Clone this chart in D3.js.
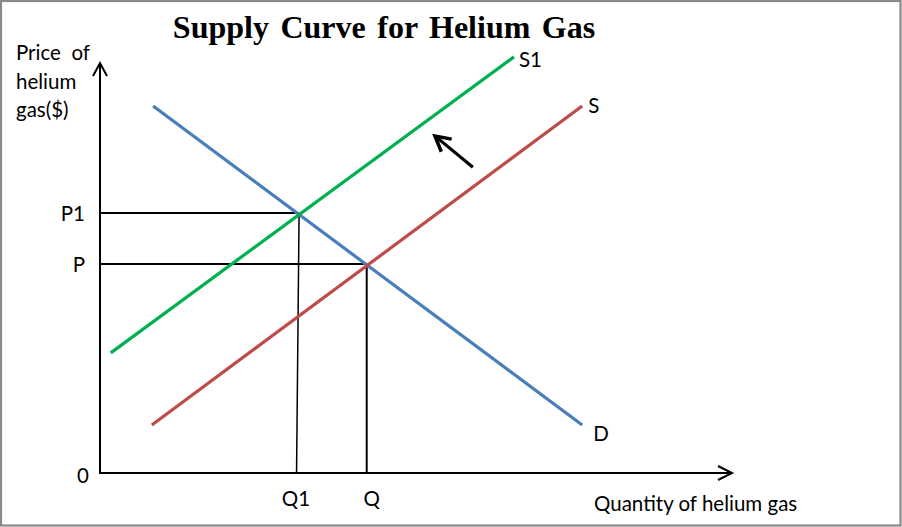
<!DOCTYPE html>
<html>
<head>
<meta charset="utf-8">
<script src="https://cdn.jsdelivr.net/npm/d3@7"></script>
<style>
  html, body { margin: 0; padding: 0; background: #fff; }
  svg { display: block; }
  .lbl { font-family: Lato, "Noto Sans", sans-serif; fill: #000; font-size: 20.5px; }
</style>
</head>
<body>
<script>
// ---- data (quantity / price units) ----
const demandD = [ {q: 0.84, p: 8.95}, {q: 7.63, p: 1.17} ];
const supplyS = [ {q: 0.82, p: 1.17}, {q: 7.63, p: 8.95} ];
const supplyS1 = [ {q: 0.17, p: 2.93}, {q: 6.55, p: 10.15} ];
const curveNames = ["D", "S", "S1"];
const priceLevels = [ {name: "P1", p: 6.34, qTop: 3.15, qBottom: 3.11}, {name: "P", p: 5.10, qTop: 4.22, qBottom: 4.22} ];
const quantityLabels = [ {name: "Q1", q: 3.10}, {name: "Q", q: 4.30} ];
const shiftArrow = [ {q: 5.90, p: 7.46}, {q: 5.30, p: 8.22} ];
const titleText = "Supply Curve for Helium Gas";
const yLabelLines = ["Price\u00a0 of", "helium", "gas($)"];
const xLabelText = "Quantity of helium gas";

const W = 902, H = 527;
const x = d3.scaleLinear().domain([0, 10]).range([100, 732]);
const y = d3.scaleLinear().domain([0, 10]).range([473, 63]);

const svg = d3.select("body").append("svg").attr("width", W).attr("height", H);

// border
svg.append("rect").attr("x", 1).attr("y", 1).attr("width", W - 2.5).attr("height", H - 2.5)
  .attr("fill", "#fff").attr("stroke", "#898989").attr("stroke-width", 2.2);

// title
svg.append("text").attr("x", 384).attr("y", 38).attr("text-anchor", "middle")
  .style("font-family", "'Liberation Serif', 'Times New Roman', serif")
  .style("font-weight", "bold").style("font-size", "32px").style("word-spacing", "3.5px")
  .text(titleText);

const line = d3.line().x(d => x(d.q)).y(d => y(d.p));

// axes
const xDomain = x.domain(), yDomain = y.domain();
svg.append("line").attr("x1", x(0)).attr("y1", y(0)).attr("x2", x(xDomain[1])).attr("y2", y(0))
  .attr("stroke", "#000").attr("stroke-width", 2);
svg.append("line").attr("x1", x(0)).attr("y1", y(0) + 1).attr("x2", x(0)).attr("y2", y(yDomain[1]))
  .attr("stroke", "#000").attr("stroke-width", 2);
// axis arrowheads (open chevrons)
svg.append("path")
  .attr("d", `M${x(0) - 7},${y(yDomain[1]) + 13}L${x(0)},${y(yDomain[1])}L${x(0) + 7},${y(yDomain[1]) + 13}`)
  .attr("fill", "none").attr("stroke", "#000").attr("stroke-width", 2);
svg.append("path")
  .attr("d", `M${x(xDomain[1]) - 14},${y(0) - 7}L${x(xDomain[1])},${y(0)}L${x(xDomain[1]) - 14},${y(0) + 7}`)
  .attr("fill", "none").attr("stroke", "#000").attr("stroke-width", 2);

// price / quantity guide lines
priceLevels.forEach(d => {
  svg.append("line").attr("x1", x(0)).attr("y1", y(d.p)).attr("x2", x(d.qTop)).attr("y2", y(d.p))
    .attr("stroke", "#000").attr("stroke-width", 2);
  svg.append("line").attr("x1", x(d.qTop)).attr("y1", y(d.p)).attr("x2", x(d.qBottom)).attr("y2", y(0))
    .attr("stroke", "#000").attr("stroke-width", d.name === "P1" ? 1.5 : 2);
  svg.append("text").attr("class", "lbl").attr("x", x(0) - 15).attr("y", y(d.p))
    .attr("text-anchor", "end").attr("dominant-baseline", "central").text(d.name);
});

// curves
const curves = [
  {name: "D", data: demandD, color: "#4A7EBB", lx: 11, ly: 8},
  {name: "S", data: supplyS, color: "#BE4B48", lx: 6, ly: -1},
  {name: "S1", data: supplyS1, color: "#00B050", lx: 5, ly: 2}
];
curves.forEach(c => {
  svg.append("path").datum(c.data).attr("d", line)
    .attr("fill", "none").attr("stroke", c.color).attr("stroke-width", 3.2);
  const end = c.data[c.data.length - 1];
  svg.append("text").attr("class", "lbl").attr("x", x(end.q) + c.lx).attr("y", y(end.p) + c.ly)
    .attr("dominant-baseline", "central").text(c.name);
});

// origin label and quantity labels
svg.append("text").attr("class", "lbl").attr("x", x(0) - 11).attr("y", y(0) + 2)
  .attr("text-anchor", "end").attr("dominant-baseline", "central").text("0");
quantityLabels.forEach(d => {
  svg.append("text").attr("class", "lbl").attr("x", x(d.q)).attr("y", y(0) + 25)
    .attr("text-anchor", "middle").attr("dominant-baseline", "central").text(d.name);
});

// axis titles
const yl = svg.append("text").attr("class", "lbl");
yLabelLines.forEach((t, i) => {
  yl.append("tspan").attr("x", 16).attr("y", 60 + i * 28.5).text(t);
});
svg.append("text").attr("class", "lbl").attr("x", 594).attr("y", 511).text(xLabelText);

// shift arrow
const a0 = shiftArrow[0], a1 = shiftArrow[1];
const ax0 = x(a0.q), ay0 = y(a0.p), ax1 = x(a1.q), ay1 = y(a1.p);
const ang = Math.atan2(ay1 - ay0, ax1 - ax0);
svg.append("line").attr("x1", ax0).attr("y1", ay0).attr("x2", ax1 - 3 * Math.cos(ang)).attr("y2", ay1 - 3 * Math.sin(ang))
  .attr("stroke", "#000").attr("stroke-width", 3.2);
const hl = 17, hw = 0.5;
svg.append("path")
  .attr("d", `M${ax1 - hl * Math.cos(ang - hw)},${ay1 - hl * Math.sin(ang - hw)}L${ax1},${ay1}L${ax1 - hl * Math.cos(ang + hw)},${ay1 - hl * Math.sin(ang + hw)}`)
  .attr("fill", "none").attr("stroke", "#000").attr("stroke-width", 3.5).attr("stroke-linejoin", "miter");
</script>
</body>
</html>
